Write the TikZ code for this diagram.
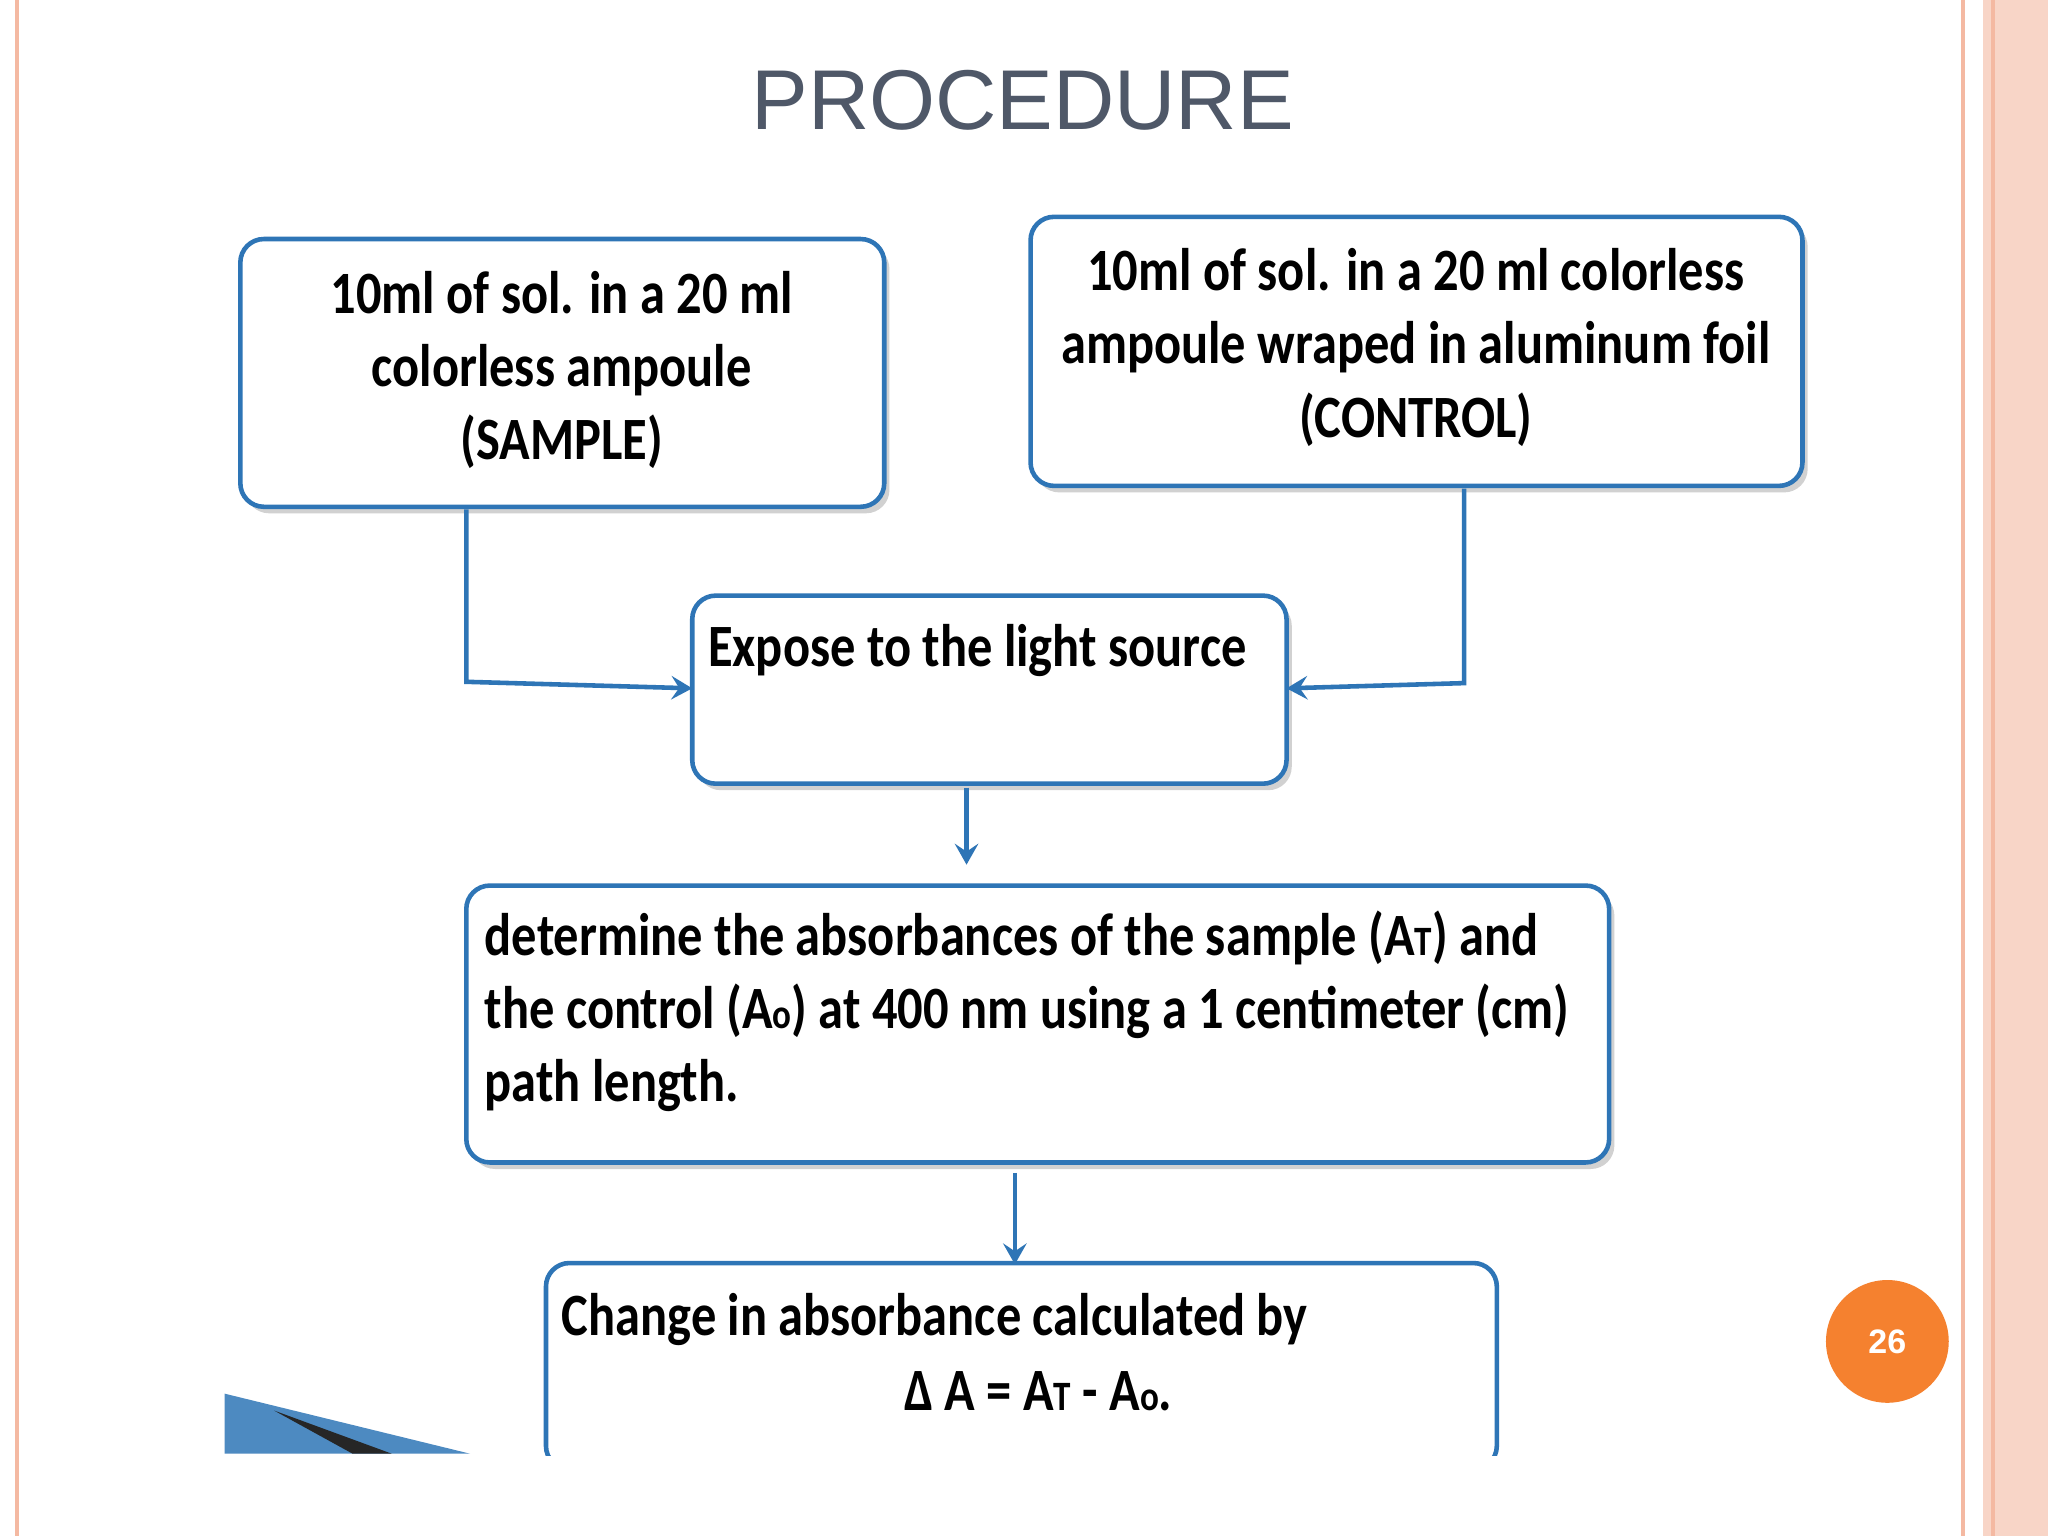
\documentclass[tikz,border=0pt]{standalone}
\usepackage{fontspec}
\setmainfont{Carlito}
\newfontfamily\boxfont[FakeStretch=0.84]{Carlito}
\newfontfamily\titlefont{Liberation Sans}
\usetikzlibrary{arrows.meta}
\definecolor{bx}{HTML}{2E75B6}
\definecolor{sal}{HTML}{F4B9A2}
\definecolor{ttl}{HTML}{4F5868}
\definecolor{org}{HTML}{F5812F}
\newcommand{\smT}{{\fontsize{32}{32}\selectfont T}}
\newcommand{\smo}{{\fontsize{32}{32}\selectfont o}}
\begin{document}
\begin{tikzpicture}[x=1pt,y=-1pt,
  box/.style={draw=bx,line width=3.5pt,rounded corners=18pt,fill=white},
  shad/.style={fill=black!18,rounded corners=18pt},
  txt/.style={font=\boxfont\bfseries\fontsize{46}{56}\selectfont,inner sep=0pt},
  conn/.style={draw=bx,line width=3.5pt,-{Stealth[length=16pt,width=18pt,inset=6pt]}}]
\useasboundingbox (0,0) rectangle (1568,1176);
\fill[white] (0,0) rectangle (1568,1176);
% borders
\draw[sal,line width=3pt] (13,0) -- (13,1176);
\draw[sal,line width=3pt] (1503,0) -- (1503,1176);
\fill[sal!60] (1518,0) rectangle (1568,1176);
\draw[sal,line width=3pt] (1526,0) -- (1526,1176);
\node[font=\titlefont\fontsize{65}{67}\selectfont,text=ttl] (title) at (783,77) {PROCEDURE};
% corner triangle
\fill[bx!85] (172,1067) -- (360,1113) -- (172,1113) -- cycle;
\fill[black!85] (210,1080) -- (300,1113) -- (270,1113) -- cycle;
% shadows
\fill[shad] (188,188) rectangle (681,393);
\fill[shad] (793,171) rectangle (1384,377);
\fill[shad] (534,461) rectangle (989,605);
\fill[shad] (361,683) rectangle (1236,895);
% boxes
\draw[box] (184,183) rectangle (677,388);
\draw[box] (789,166) rectangle (1380,372);
\draw[box] (530,456) rectangle (985,600);
\draw[box] (357,678) rectangle (1232,890);
\draw[box] (418,967) rectangle (1146,1125);
\fill[white] (150,1115) rectangle (1300,1176);
\node[txt,align=center] (t1) at (430,283) {10ml of sol. in a 20 ml\\colorless ampoule\\(SAMPLE)};
\node[txt,align=center] (t2) at (1084,266) {10ml of sol. in a 20 ml colorless\\ampoule wraped in aluminum foil\\(CONTROL)};
\node[txt,anchor=west] (t3) at (542,498) {Expose to the light source};
\node[txt,align=left,anchor=north west] (t4) at (371,697) {determine the absorbances of the sample (A\smT) and\\the control (A\smo) at 400 nm using a 1 centimeter (cm)\\path length.};
\node[txt,anchor=west] (t5a) at (430,1010) {Change in absorbance calculated by};
\node[txt,anchor=west] (t5b) at (692,1065) {Δ A = A\smT{} - A\smo.};
% connectors
\coordinate (s1) at (357,390); \coordinate (e1) at (530,527);
\coordinate (s2) at (1121,374); \coordinate (e2) at (985,527);
\draw[conn] (s1) -- (357,522) -- (e1);
\draw[conn] (s2) -- (1121,523) -- (e2);
\draw[conn] (740,603) -- (740,662);
\draw[conn] (777,898) -- (777,968);
% page number
\node[circle,fill=org,minimum size=94pt,text=white,font=\titlefont\bfseries\fontsize{26}{26}\selectfont] (pg) at (1445,1027) {26};
\end{tikzpicture}
\end{document}
